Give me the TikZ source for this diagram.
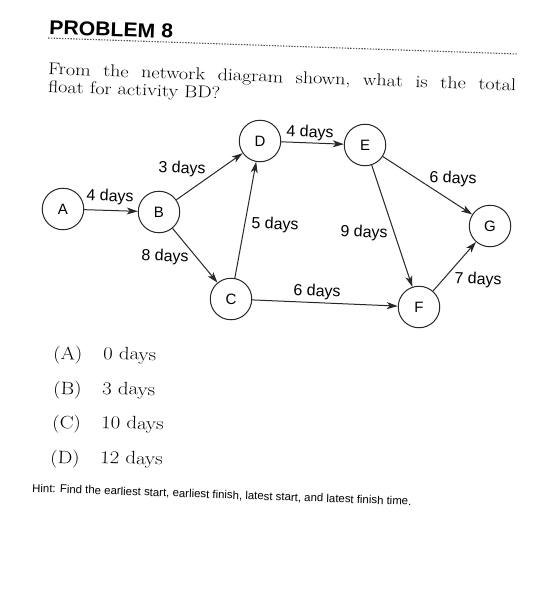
\documentclass[tikz,border=0pt]{standalone}
\usepackage{xcolor}
\definecolor{inkgray}{RGB}{40,40,40}
\definecolor{dotgray}{RGB}{80,80,80}
\usepackage{fontspec}
\newfontfamily\arialfont{Liberation Sans}
\usepackage{tikz}
\usetikzlibrary{arrows.meta}
\newcommand{\dur}[1]{#1 days}
\newcommand{\tilt}{-2}
\newcommand{\wide}[1]{\scalebox{1.15}[1]{#1}}
\tikzset{
    common/.style={inner sep=0pt, rotate=\tilt},
    event/.style={draw=inkgray, circle, line width=1pt, minimum size=41.5pt, inner sep=0pt, font=\arialfont\fontsize{15}{15}\selectfont},
    act/.style={-{Stealth[length=11pt, width=7pt, inset=3pt]}, inkgray, line width=1pt},
    dlabel/.style={common, font=\arialfont\fontsize{16}{16}\selectfont},
    question/.style={common, anchor=base west, font=\fontsize{17}{17}\selectfont},
    choice/.style={common, anchor=base west, font=\fontsize{18}{18}\selectfont},
    hint/.style={common, anchor=base west, font=\arialfont\fontsize{11.4}{11.4}\selectfont},
    title/.style={common, anchor=base west, font=\arialfont\bfseries\fontsize{20}{20}\selectfont}
}

\begin{document}
\begin{tikzpicture}[x=1pt, y=-1pt]
    \useasboundingbox (0,0) rectangle (541,602);

    \node[title] (head) at (49,34) {\scalebox{1.06}[1]{PROBLEM 8}};
    \coordinate (rule0) at (48,38);
    \coordinate (rule1) at (518,54);
    \draw[dotgray, line width=1.1pt, dash pattern=on 1.4pt off 1.4pt] (rule0) -- (rule1);

    \node[question] (q1) at (48,74.5) {\makebox[468pt][s]{\scalebox{1.18}[1]{From}\ \scalebox{1.18}[1]{the}\ \scalebox{1.18}[1]{network}\ \scalebox{1.18}[1]{diagram}\ \scalebox{1.18}[1]{shown,}\ \scalebox{1.18}[1]{what}\ \scalebox{1.18}[1]{is}\ \scalebox{1.18}[1]{the}\ \scalebox{1.18}[1]{total}}};
    \node[question] (q2) at (48,92.5) {\scalebox{1.18}[1]{float for activity BD?}};

    \node[event] (eA) at (63,209) {A};
    \node[event] (eB) at (159,212) {B};
    \node[event] (eD) at (260,141) {D};
    \node[event] (eC) at (231,299) {C};
    \node[event] (eE) at (365,145) {E};
    \node[event] (eG) at (490,226) {G};
    \node[event] (eF) at (419,307) {F};

    \draw[act] (eA) edge (eB) (eB) edge (eD) (eB) edge (eC) (eC) edge (eD)
        (eD) edge (eE) (eE) edge (eG) (eE) edge (eF) (eC) edge (eF) (eF) edge (eG);

    \node[dlabel] (dAB) at (110,197) {\dur{4}};
    \node[dlabel] (dBD) at (182,169) {\dur{3}};
    \node[dlabel] (dBC) at (165,257) {\dur{8}};
    \node[dlabel] (dCD) at (275,225) {\dur{5}};
    \node[dlabel] (dDE) at (310,133) {\dur{4}};
    \node[dlabel] (dEG) at (453,179) {\dur{6}};
    \node[dlabel] (dEF) at (364,233) {\dur{9}};
    \node[dlabel] (dCF) at (317,292) {\dur{6}};
    \node[dlabel] (dFG) at (478,280) {\dur{7}};

    \node[choice] (cA) at (53,359) {\wide{(A)}};
    \node[choice] (aA) at (103,359) {\wide{\dur{0}}};
    \node[choice] (cB) at (53,394) {\wide{(B)}};
    \node[choice] (aB) at (102,394) {\wide{\dur{3}}};
    \node[choice] (cC) at (52,428) {\wide{(C)}};
    \node[choice] (aC) at (101,428) {\wide{\dur{10}}};
    \node[choice] (cD) at (50,463) {\wide{(D)}};
    \node[choice] (aD) at (100,463) {\wide{\dur{12}}};

    \node[hint] (tip) at (32,492) {Hint: Find the earliest start, earliest finish, latest start, and latest finish time.};
\end{tikzpicture}
\end{document}
